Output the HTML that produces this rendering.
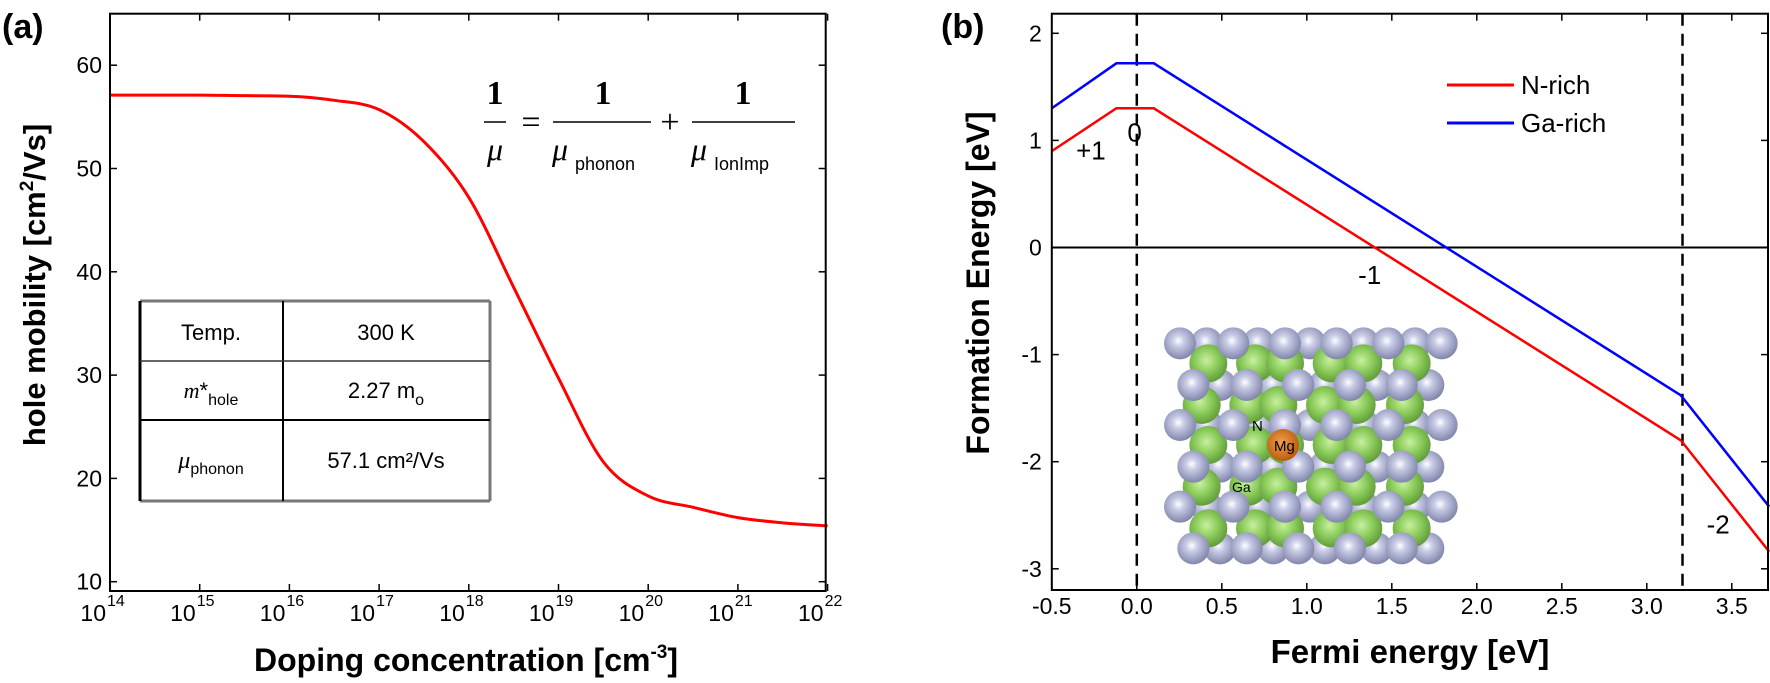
<!DOCTYPE html>
<html><head><meta charset="utf-8"><style>
html,body{margin:0;padding:0;background:#fff}
svg{display:block}
</style></head><body>
<svg id="fig" width="1770" height="683" viewBox="0 0 1770 683" xmlns="http://www.w3.org/2000/svg" font-family="Liberation Sans, sans-serif">
<defs>
<radialGradient id="gGray" cx="0.45" cy="0.42" r="0.6"><stop offset="0" stop-color="#ffffff"/><stop offset="0.3" stop-color="#c9cce6"/><stop offset="1" stop-color="#7d82a8"/></radialGradient>
<radialGradient id="gGreen" cx="0.45" cy="0.42" r="0.6"><stop offset="0" stop-color="#c8f0a0"/><stop offset="0.5" stop-color="#8ccc5c"/><stop offset="1" stop-color="#5e9a38"/></radialGradient>
<radialGradient id="gMg" cx="0.45" cy="0.42" r="0.6"><stop offset="0" stop-color="#f0a050"/><stop offset="1" stop-color="#b85a08"/></radialGradient>
</defs>
<g id="panelA"></g>
<g id="panelB"></g>
</svg>
<script>
// ---------- Panel (a) data ----------
const mobExponents = [14,14.5,15,15.5,16,16.5,17,17.5,18,18.5,19,19.5,20,20.5,21,21.5,22];
const mobValues = [57.1,57.1,57.1,57.05,57.0,56.6,55.7,52.6,47.2,38.5,29.7,21.6,18.3,17.2,16.2,15.7,15.4];
const mobYTicks = [10,20,30,40,50,60];
const mobXTicks = [14,15,16,17,18,19,20,21,22];
// ---------- Panel (b) data ----------
const fermiX = [-0.5,-0.12,0.1,3.2,3.72];
const nRichE = [0.9,1.3,1.3,-1.8,-2.84];
const gaRichE = [1.3,1.72,1.72,-1.38,-2.42];
const feXTicks = [-0.5,0,0.5,1,1.5,2,2.5,3,3.5];
const feXLabels = ["-0.5","0.0","0.5","1.0","1.5","2.0","2.5","3.0","3.5"];
const feYTicks = [-3,-2,-1,0,1,2];
const transitionLevels = [0,3.21];
const chargeLabels = ["+1","0","-1","-2"];
const chargeLabelPos = [[-0.27,0.82],[-0.013,0.99],[1.37,-0.34],[3.42,-2.67]];

const NS="http://www.w3.org/2000/svg";
function el(tag,attrs,parent,txt){const e=document.createElementNS(NS,tag);for(const k in attrs)e.setAttribute(k,attrs[k]);if(txt!==undefined)e.textContent=txt;parent.appendChild(e);return e;}
function monotonePath(p){
  const n=p.length,d=[],m=[];
  for(let i=0;i<n-1;i++)d.push((p[i+1][1]-p[i][1])/(p[i+1][0]-p[i][0]));
  m[0]=d[0];m[n-1]=d[n-2];
  for(let i=1;i<n-1;i++){m[i]=(d[i-1]*d[i]<=0)?0:(d[i-1]+d[i])/2;}
  for(let i=0;i<n-1;i++){if(d[i]===0){m[i]=0;m[i+1]=0;continue;}const a=m[i]/d[i],b=m[i+1]/d[i],s=a*a+b*b;if(s>9){const tt=3/Math.sqrt(s);m[i]=tt*a*d[i];m[i+1]=tt*b*d[i];}}
  let s="M"+p[0][0]+","+p[0][1];
  for(let i=0;i<n-1;i++){const h=(p[i+1][0]-p[i][0])/3;s+=" C"+(p[i][0]+h)+","+(p[i][1]+m[i]*h)+" "+(p[i+1][0]-h)+","+(p[i+1][1]-m[i+1]*h)+" "+p[i+1][0]+","+p[i+1][1];}
  return s;
}
const SERIF='font-family:"Liberation Serif",serif';

// ===== Panel A =====
const A=document.getElementById('panelA');
const aL=110,aR=825.7,aT=13.7,aB=591;
const xA=e=>aL+(e-14)*89.7;
const yA=v=>581.7-(v-10)*10.33;
let t;
t=el('text',{x:2,y:38,'font-size':34,'font-weight':'bold'},A,'(a)');


const pA=mobExponents.map((e,i)=>[xA(e),yA(mobValues[i])]);
t=el('path',{d:monotonePath(pA),fill:'none',stroke:'#ff0000','stroke-width':3},A);


t=el('rect',{x:aL,y:aT,width:aR-aL,height:aB-aT,fill:'none',stroke:'#000','stroke-width':2},A);


mobYTicks.forEach(v=>{
  el('line',{x1:aL,x2:aL+7,y1:yA(v),y2:yA(v),stroke:'#000','stroke-width':1.5},A);
  el('line',{x1:aR,x2:aR-7,y1:yA(v),y2:yA(v),stroke:'#000','stroke-width':1.5},A);
  t=el('text',{x:aL-8,y:yA(v)+8,'font-size':23,'text-anchor':'end'},A,String(v));
  
  
});
mobXTicks.forEach(e=>{
  el('line',{x1:xA(e),x2:xA(e),y1:aB,y2:aB-7,stroke:'#000','stroke-width':1.5},A);
  el('line',{x1:xA(e),x2:xA(e),y1:aT,y2:aT+7,stroke:'#000','stroke-width':1.5},A);
  t=el('text',{x:xA(e)-4,y:621,'font-size':23,'text-anchor':'end'},A,'10');
  
  
  el('text',{x:xA(e)-3,y:606,'font-size':16},A,String(e));
});
t=el('text',{x:466,y:671,'font-size':32,'font-weight':'bold','text-anchor':'middle'},A);


t.innerHTML='Doping concentration [cm<tspan dy="-13" font-size="19">-3</tspan><tspan dy="13">]</tspan>';
t=el('text',{x:0,y:0,'font-size':31,'font-weight':'bold','text-anchor':'middle',transform:'translate(45,285) rotate(-90)'},A);


t.innerHTML='hole mobility [cm<tspan dy="-12" font-size="19">2</tspan><tspan dy="12">/Vs]</tspan>';
// equation
const eq=el('g',{},A);


el('text',{x:495,y:104,'font-size':34,'text-anchor':'middle',style:SERIF+';font-weight:bold'},eq,'1');
el('line',{x1:484,x2:506,y1:122,y2:122,stroke:'#000','stroke-width':1.5},eq);
el('text',{x:495,y:160,'font-size':32,'text-anchor':'middle',style:SERIF+';font-style:italic'},eq,'μ');
el('text',{x:531,y:133,'font-size':34,'text-anchor':'middle',style:SERIF},eq,'=');
el('text',{x:603,y:104,'font-size':34,'text-anchor':'middle',style:SERIF+';font-weight:bold'},eq,'1');
el('line',{x1:553,x2:651,y1:122,y2:122,stroke:'#000','stroke-width':1.5},eq);
el('text',{x:552,y:160,'font-size':32,style:SERIF+';font-style:italic'},eq,'μ');
el('text',{x:575,y:170,'font-size':18},eq,'phonon');
el('text',{x:670,y:133,'font-size':34,'text-anchor':'middle',style:SERIF},eq,'+');
el('text',{x:743,y:104,'font-size':34,'text-anchor':'middle',style:SERIF+';font-weight:bold'},eq,'1');
el('line',{x1:692,x2:795,y1:122,y2:122,stroke:'#000','stroke-width':1.5},eq);
el('text',{x:691,y:160,'font-size':32,style:SERIF+';font-style:italic'},eq,'μ');
el('text',{x:714,y:170,'font-size':18},eq,'IonImp');
// table
const tb=el('g',{},A);


el('rect',{x:140,y:301,width:350,height:200,fill:'#fff',stroke:'none'},tb);
el('line',{x1:140,x2:490,y1:301,y2:301,stroke:'#777','stroke-width':3},tb);
el('line',{x1:140,x2:490,y1:501,y2:501,stroke:'#777','stroke-width':3},tb);
el('line',{x1:490,x2:490,y1:301,y2:501,stroke:'#777','stroke-width':3},tb);
el('line',{x1:140,x2:140,y1:301,y2:501,stroke:'#000','stroke-width':3},tb);
el('line',{x1:283,x2:283,y1:301,y2:501,stroke:'#000','stroke-width':2},tb);
el('line',{x1:140,x2:490,y1:361,y2:361,stroke:'#333','stroke-width':1.5},tb);
el('line',{x1:140,x2:490,y1:420,y2:420,stroke:'#000','stroke-width':2},tb);
el('text',{x:211,y:340,'font-size':22,'text-anchor':'middle'},tb,'Temp.');
el('text',{x:386,y:340,'font-size':22,'text-anchor':'middle'},tb,'300 K');
t=el('text',{x:211,y:398,'font-size':22,'text-anchor':'middle'},tb);
t.innerHTML='<tspan style=\'font-family:"Liberation Serif",serif;font-style:italic\'>m</tspan>*<tspan dy="7" font-size="16">hole</tspan>';
t=el('text',{x:386,y:398,'font-size':22,'text-anchor':'middle'},tb);
t.innerHTML='2.27 m<tspan dy="7" font-size="16">o</tspan>';
t=el('text',{x:211,y:468,'font-size':24,'text-anchor':'middle'},tb);
t.innerHTML='<tspan style=\'font-family:"Liberation Serif",serif;font-style:italic\'>μ</tspan><tspan dy="6" font-size="16">phonon</tspan>';
el('text',{x:386,y:468,'font-size':22,'text-anchor':'middle'},tb,'57.1 cm²/Vs');

// ===== Panel B =====
const B=document.getElementById('panelB');
const bL=1051.8,bR=1768,bT=13.7,bB=590;
const xB=v=>bL+(v+0.5)*170;
const yB=v=>247.5-v*107.1;
t=el('text',{x:941,y:38,'font-size':34,'font-weight':'bold'},B,'(b)');


// crystal inset
const cr=el('g',{},B);


const ox=1155,oy=315;
const grayRows=[85,210,330,455,575,700];
const grayXs=ri=> ri%2===0 ? [75,155,235,310,390,465,545,625,700,780,860] : [115,195,275,355,430,510,585,665,740,820];
grayRows.forEach((gy,ri)=>grayXs(ri).forEach((gx,ci)=>{if(ci%2===1)el('circle',{cx:ox+gx/3,cy:oy+gy/3,r:16,fill:'url(#gGray)'},cr);}));
const greenRows=[145,270,390,515,640];
greenRows.forEach((gy,ri)=>{
  [160,300,390,530,625,770].forEach(gx=>{
    const sx=gx+(ri%2?-20:0);
    el('circle',{cx:ox+sx/3,cy:oy+gy/3,r:19,fill:'url(#gGreen)'},cr);
  });
});
grayRows.forEach((gy,ri)=>grayXs(ri).forEach((gx,ci)=>{if(ci%2===0)el('circle',{cx:ox+gx/3,cy:oy+gy/3,r:16,fill:'url(#gGray)'},cr);}));
el('circle',{cx:1283,cy:445,r:16,fill:'url(#gMg)'},cr);
el('text',{x:1252,y:431,'font-size':15},cr,'N');
el('text',{x:1274,y:451,'font-size':15},cr,'Mg');
el('text',{x:1232,y:492,'font-size':14},cr,'Ga');
t=el('line',{x1:bL,x2:bR,y1:yB(0),y2:yB(0),stroke:'#000','stroke-width':2},B);


transitionLevels.forEach(v=>{
  t=el('line',{x1:xB(v),x2:xB(v),y1:bT,y2:bB,stroke:'#000','stroke-width':2.5,'stroke-dasharray':'12,8'},B);
  
  
});
t=el('polyline',{points:fermiX.map((x,i)=>xB(x)+','+yB(nRichE[i])).join(' '),fill:'none',stroke:'#ff0000','stroke-width':2.5},B);


t=el('polyline',{points:fermiX.map((x,i)=>xB(x)+','+yB(gaRichE[i])).join(' '),fill:'none',stroke:'#0000ff','stroke-width':2.5},B);


t=el('rect',{x:bL,y:bT,width:bR-bL,height:bB-bT,fill:'none',stroke:'#000','stroke-width':2},B);


feYTicks.forEach(v=>{
  el('line',{x1:bL,x2:bL+7,y1:yB(v),y2:yB(v),stroke:'#000','stroke-width':1.5},B);
  el('line',{x1:bR,x2:bR-7,y1:yB(v),y2:yB(v),stroke:'#000','stroke-width':1.5},B);
  t=el('text',{x:bL-10,y:yB(v)+8,'font-size':23,'text-anchor':'end'},B,String(v));
  
  
});
feXTicks.forEach((v,i)=>{
  el('line',{x1:xB(v),x2:xB(v),y1:bB,y2:bB-7,stroke:'#000','stroke-width':1.5},B);
  el('line',{x1:xB(v),x2:xB(v),y1:bT,y2:bT+7,stroke:'#000','stroke-width':1.5},B);
  t=el('text',{x:xB(v),y:614,'font-size':23,'text-anchor':'middle'},B,feXLabels[i]);
  
  
});
chargeLabels.forEach((s,i)=>{
  t=el('text',{x:xB(chargeLabelPos[i][0]),y:yB(chargeLabelPos[i][1]),'font-size':26,'text-anchor':'middle'},B,s);
  
  
});
t=el('text',{x:1410,y:663,'font-size':33,'font-weight':'bold','text-anchor':'middle'},B,'Fermi energy [eV]');


t=el('text',{x:0,y:0,'font-size':32,'font-weight':'bold','text-anchor':'middle',transform:'translate(989,283) rotate(-90)'},B,'Formation Energy [eV]');


const lg=el('g',{},B);


el('line',{x1:1447,x2:1514,y1:85,y2:85,stroke:'#ff0000','stroke-width':3},lg);
el('text',{x:1521,y:94,'font-size':26},lg,'N-rich');
el('line',{x1:1447,x2:1514,y1:123,y2:123,stroke:'#0000ff','stroke-width':3},lg);
el('text',{x:1521,y:132,'font-size':26},lg,'Ga-rich');
</script>
</body></html>
